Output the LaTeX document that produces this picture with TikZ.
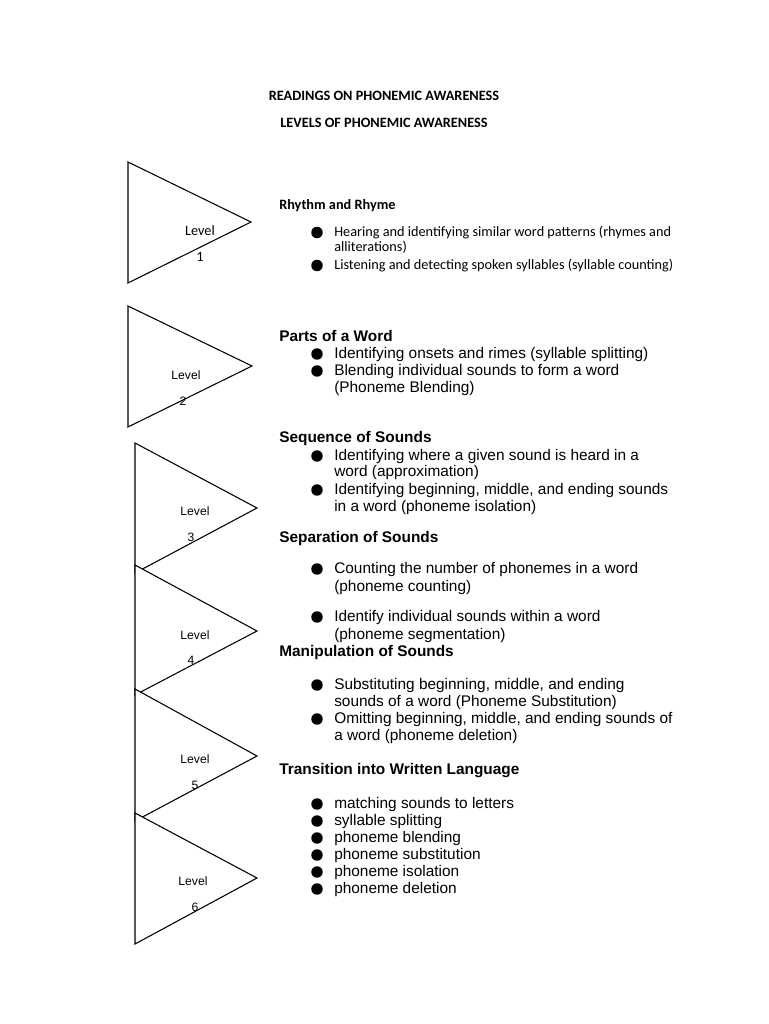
\documentclass[tikz,border=0pt]{standalone}
\usepackage{fontspec}
\setmainfont{Liberation Sans}
\newfontfamily\carlito{Carlito}
\begin{document}
\begin{tikzpicture}[x=0.75pt,y=-0.75pt,
  tri/.style={draw=black,line width=0.8pt,line join=miter,fill=white},
  body/.style={anchor=base west,inner sep=0pt,font=\fontsize{11.55}{13}\selectfont},
  head/.style={anchor=base west,inner sep=0pt,font=\fontsize{11.55}{13}\selectfont\bfseries},
  cbody/.style={anchor=base west,inner sep=0pt,font=\carlito\fontsize{10.7}{12}\selectfont},
  chead/.style={anchor=base west,inner sep=0pt,font=\carlito\fontsize{10.7}{12}\selectfont\bfseries},
  ttl/.style={anchor=base,inner sep=0pt,font=\carlito\fontsize{10.7}{12}\selectfont\bfseries},
  bul/.style={circle,fill=black,inner sep=0pt,minimum size=8.6pt},
  lvl/.style={anchor=base,inner sep=0pt,font=\fontsize{9.1}{11}\selectfont},
  clvl/.style={anchor=base,inner sep=0pt,font=\carlito\fontsize{10.7}{12}\selectfont}]
\useasboundingbox[fill=white] (0,0) rectangle (768,1024);

% titles
\node[ttl] (title1) at (384,100.5) {READINGS ON PHONEMIC AWARENESS};
\node[ttl] (title2) at (384,127.5) {LEVELS OF PHONEMIC AWARENESS};

% triangles
\draw[tri] (128,162) -- (251,222) -- (128,283) -- cycle;
\draw[tri] (128,306) -- (252,366) -- (128,427) -- cycle;
\draw[tri] (135,443) -- (257,508) -- (135,573) -- cycle;
\draw[tri] (135,565) -- (257,631) -- (135,695) -- cycle;
\draw[tri] (135,689) -- (257,756) -- (135,821) -- cycle;
\draw[tri] (135,813) -- (257,878) -- (135,944) -- cycle;

% level labels
\node[clvl] (l1a) at (200,235.5) {Level};
\node[clvl] (l1b) at (200,261.5) {1};
\node[lvl] (l2a) at (186,379) {Level};
\node[lvl] (l2b) at (183,405.5) {2};
\node[lvl] (l3a) at (195,515.5) {Level};
\node[lvl] (l3b) at (191,541.5) {3};
\node[lvl] (l4a) at (195,639.5) {Level};
\node[lvl] (l4b) at (191,664.5) {4};
\node[lvl] (l5a) at (195,763.5) {Level};
\node[lvl] (l5b) at (195,789.5) {5};
\node[lvl] (l6a) at (193,885.5) {Level};
\node[lvl] (l6b) at (195,911.5) {6};

% section 1
\node[chead] (h1) at (279,209.5) {Rhythm and Rhyme};
\node[bul] (b1a) at (317,232.5) {};
\node[cbody] (s1a) at (334,236.5) {Hearing and identifying similar word patterns (rhymes and};
\node[cbody] (s1b) at (334,251.5) {alliterations)};
\node[bul] (b1b) at (317,265.5) {};
\node[cbody] (s1c) at (334,269.5) {Listening and detecting spoken syllables (syllable counting)};

% section 2
\node[head] (h2) at (279,341.5) {Parts of a Word};
\node[bul] (b2a) at (317,354) {};
\node[body] (s2a) at (334,358.5) {Identifying onsets and rimes (syllable splitting)};
\node[bul] (b2b) at (317,371) {};
\node[body] (s2b) at (334,375.5) {Blending individual sounds to form a word};
\node[body] (s2c) at (334,392.5) {(Phoneme Blending)};

% section 3
\node[head] (h3) at (279,442.5) {Sequence of Sounds};
\node[bul] (b3a) at (317,456) {};
\node[body] (s3a) at (334,460.5) {Identifying where a given sound is heard in a};
\node[body] (s3b) at (334,476.5) {word (approximation)};
\node[bul] (b3b) at (317,490) {};
\node[body] (s3c) at (334,494.5) {Identifying beginning, middle, and ending sounds};
\node[body] (s3d) at (334,511.5) {in a word (phoneme isolation)};

% section 4
\node[head] (h4) at (279,542.5) {Separation of Sounds};
\node[bul] (b4a) at (317,569) {};
\node[body] (s4a) at (334,573.5) {Counting the number of phonemes in a word};
\node[body] (s4b) at (334,591.5) {(phoneme counting)};
\node[bul] (b4b) at (317,617) {};
\node[body] (s4c) at (334,621.5) {Identify individual sounds within a word};
\node[body] (s4d) at (334,639.5) {(phoneme segmentation)};

% section 5
\node[head] (h5) at (279,656.5) {Manipulation of Sounds};
\node[bul] (b5a) at (317,685) {};
\node[body] (s5a) at (334,689.5) {Substituting beginning, middle, and ending};
\node[body] (s5b) at (334,706.5) {sounds of a word (Phoneme Substitution)};
\node[bul] (b5b) at (317,719) {};
\node[body] (s5c) at (334,723.5) {Omitting beginning, middle, and ending sounds of};
\node[body] (s5d) at (334,740.5) {a word (phoneme deletion)};

% section 6
\node[head] (h6) at (279,774.5) {Transition into Written Language};
\foreach \yy/\tt [count=\i] in {803/{matching sounds to letters},820/{syllable splitting},837/{phoneme blending},854/{phoneme substitution},871/{phoneme isolation},888/{phoneme deletion}}{
  \node[bul] (b6\i) at (317,\yy+1) {};
  \node[body] (s6\i) at (334,\yy+5.5) {\tt};
}
\end{tikzpicture}
\end{document}
